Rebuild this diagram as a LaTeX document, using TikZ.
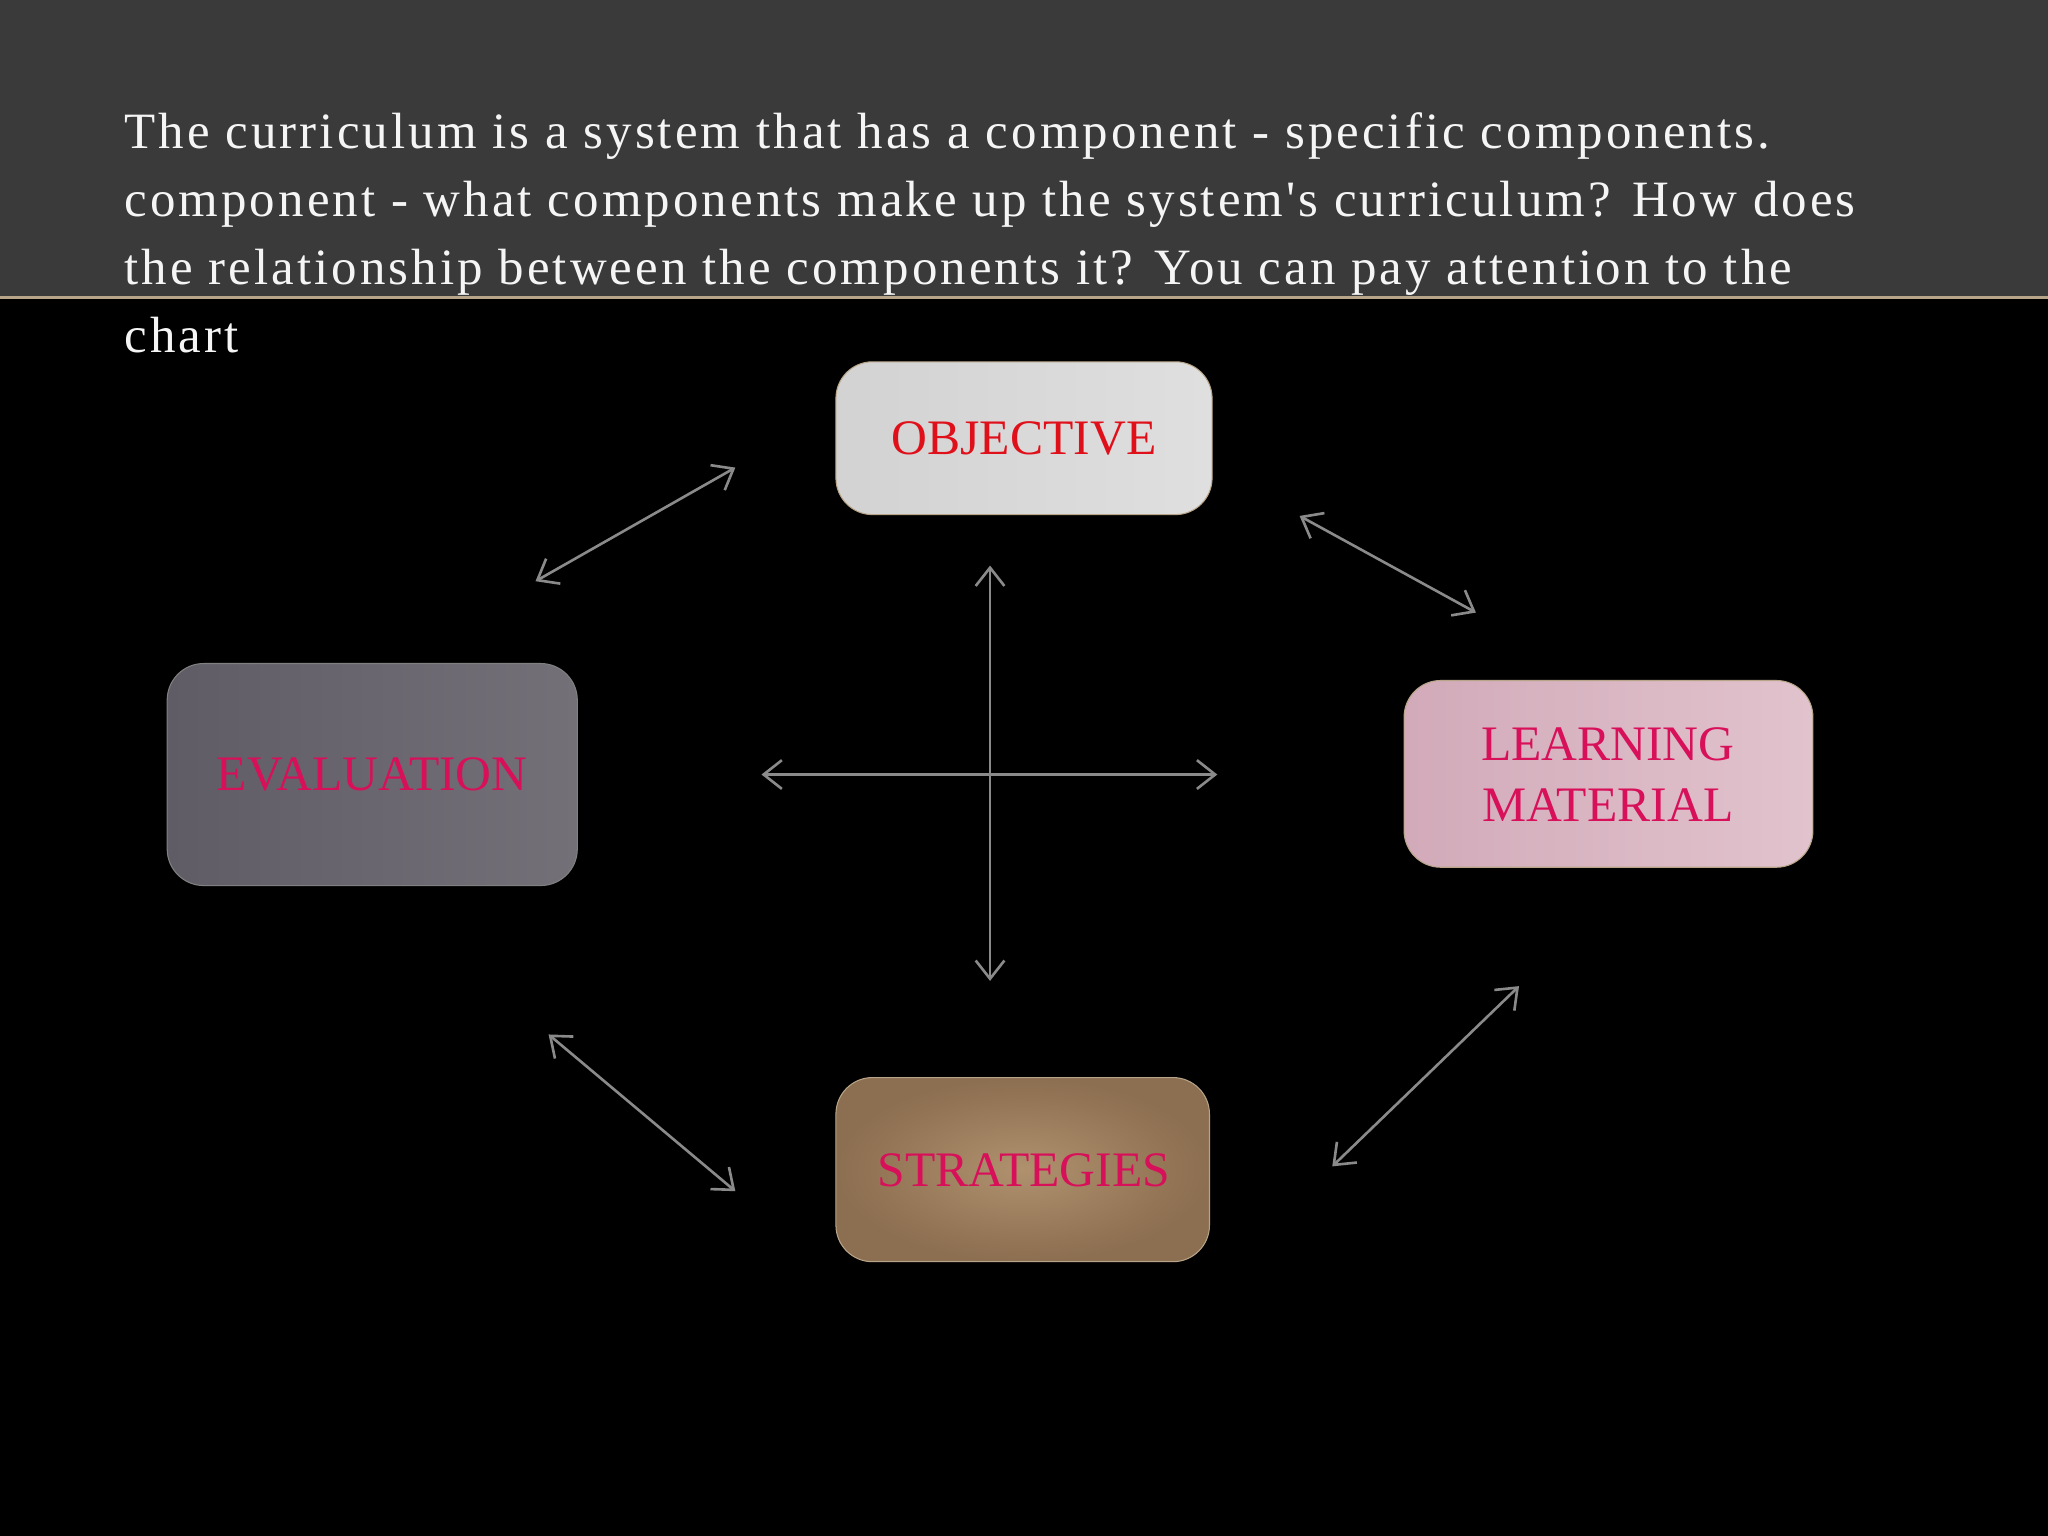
\documentclass[tikz,border=0pt]{standalone}
\usepackage{fontspec}
\setmainfont{Liberation Serif}
\newfontfamily\hdrfont[LetterSpace=6]{Liberation Serif}
\usetikzlibrary{arrows.meta}
\definecolor{hdr}{HTML}{3A3A3A}
\definecolor{ln}{HTML}{B8A488}
\definecolor{arr}{HTML}{8A8A8A}
\definecolor{red1}{HTML}{E0101A}
\definecolor{pink1}{HTML}{D8105A}
\tikzset{
 lbl/.style={font=\fontsize{19}{23}\selectfont,align=center},
 conn/.style={arr,line width=1pt,{Straight Barb[length=7pt,width=11pt]}-{Straight Barb[length=7pt,width=11pt]}}
}
\begin{document}
\begin{tikzpicture}[x=0.5pt,y=-0.5pt]
\useasboundingbox (0,0) rectangle (1568,1176);
\fill[black] (0,0) rectangle (1568,1176);
\fill[hdr] (0,0) rectangle (1568,228);
\draw[ln,line width=1pt] (0,228) -- (1568,228);
\node[anchor=north west,text=white!92!gray,font=\hdrfont\fontsize{19.5}{26}\selectfont,align=left,inner sep=0pt] (t) at (95,86)
{The curriculum is a system that has a component - specific components.\\
component - what components make up the system's curriculum? How does\\
the relationship between the components it? You can pay attention to the\\
chart};
\shade[rounded corners=14pt,left color=gray!35!white,right color=gray!25!white,draw=ln] (640,277) rectangle (928,394);
\node[lbl,text=red1] (obj) at (784,336) {OBJECTIVE};
\shade[rounded corners=14pt,left color={rgb,255:red,95;green,92;blue,102},right color={rgb,255:red,115;green,112;blue,120},draw=gray] (128,508) rectangle (442,678);
\node[lbl,text=pink1] (eva) at (285,593) {EVALUATION};
\shade[rounded corners=14pt,left color={rgb,255:red,210;green,170;blue,185},right color={rgb,255:red,225;green,195;blue,205},draw=ln] (1075,521) rectangle (1388,664);
\node[lbl,text=pink1] (lm) at (1231,593) {LEARNING\\MATERIAL};
\shade[rounded corners=14pt,inner color={rgb,255:red,175;green,145;blue,110},outer color={rgb,255:red,140;green,110;blue,80},draw=ln] (640,825) rectangle (926,966);
\node[lbl,text=pink1] (str) at (784,896) {STRATEGIES};
\coordinate (a1) at (410,445); \coordinate (a2) at (563,358);
\coordinate (b1) at (995,395); \coordinate (b2) at (1130,469);
\coordinate (c1) at (758,433); \coordinate (c2) at (758,751);
\coordinate (d1) at (583,593); \coordinate (d2) at (932,593);
\coordinate (e1) at (420,792); \coordinate (e2) at (563,912);
\coordinate (f1) at (1020,893); \coordinate (f2) at (1163,755);
\draw[conn] (a1) -- (a2);
\draw[conn] (b1) -- (b2);
\draw[conn] (c1) -- (c2);
\draw[conn] (d1) -- (d2);
\draw[conn] (e1) -- (e2);
\draw[conn] (f1) -- (f2);
\end{tikzpicture}
\end{document}
